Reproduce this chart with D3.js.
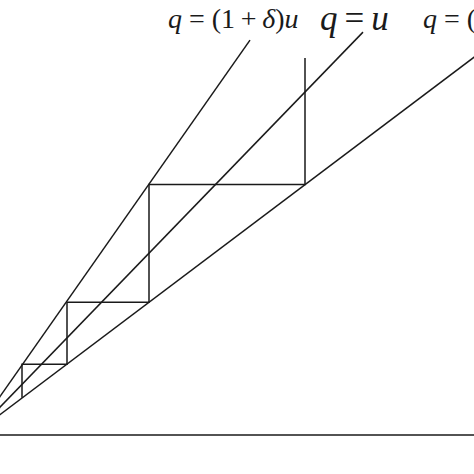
<!DOCTYPE html>
<html>
<head>
<meta charset="utf-8">
<script src="https://cdn.jsdelivr.net/npm/d3@7"></script>
<style>
  html, body { margin: 0; padding: 0; background: #fff; }
  svg { display: block; }
</style>
</head>
<body>
<div id="chart"></div>
<script>
// slopes of the three rays q = k u
var rayNames = ["q = (1+δ)u", "q = u", "q = (1−δ)u"];
var raySlopes = [1.38, 1.0, 0.73];
var rayEndU = [0.554, 0.78, 1.02];

// cobweb path as (u, q)
var stairU = [0.664, 0.664, 0.352, 0.352, 0.188, 0.188, 0.098, 0.098];
var stairQ = [0.73, 0.485, 0.485, 0.257, 0.257, 0.137, 0.137, 0.072];

var width = 474, height = 474;

var svg = d3.select("#chart").append("svg")
  .attr("width", width).attr("height", height);

// origin sits just off the left edge, on the baseline
var x = d3.scaleLinear().domain([0, 1]).range([-27, 473]);
var y = d3.scaleLinear().domain([0, 1]).range([435, -81.5]);

var ink = "#1a1a1a";

// baseline
svg.append("line")
  .attr("x1", 0).attr("x2", width)
  .attr("y1", y(0)).attr("y2", y(0))
  .attr("stroke", ink).attr("stroke-width", 1.6);

// rays
svg.selectAll("line.ray")
  .data(raySlopes)
  .enter().append("line")
  .attr("class", "ray")
  .attr("x1", x(0)).attr("y1", y(0))
  .attr("x2", function(d, i) { return x(rayEndU[i]); })
  .attr("y2", function(d, i) { return y(d * rayEndU[i]); })
  .attr("stroke", ink).attr("stroke-width", 1.5);

// stair steps
var line = d3.line()
  .x(function(d) { return x(d[0]); })
  .y(function(d) { return y(d[1]); });

svg.append("path")
  .datum(d3.zip(stairU, stairQ))
  .attr("d", line)
  .attr("fill", "none")
  .attr("stroke", ink).attr("stroke-width", 1.5);

// labels (math-ish: italic letters, upright symbols)
var labelPos = [[168, 28, 28], [320, 30, 35], [423, 28, 28]];
var labelParts = [
  [["q", 1], [" = ", 0], ["(1\u2009+\u2009", 0], ["δ", 1], [")", 0], ["u", 1]],
  [["q", 1], ["\u2009=\u2009", 0], ["u", 1]],
  [["q", 1], [" = ", 0], ["(1\u2009−\u2009", 0], ["δ", 1], [")", 0], ["u", 1]]
];

labelParts.forEach(function(parts, i) {
  var t = svg.append("text")
    .attr("x", labelPos[i][0]).attr("y", labelPos[i][1])
    .attr("font-family", "'Liberation Serif', 'DejaVu Serif', serif")
    .attr("font-size", labelPos[i][2])
    .attr("fill", ink)
    .attr("xml:space", "preserve");
  parts.forEach(function(p) {
    t.append("tspan")
      .attr("font-style", p[1] ? "italic" : "normal")
      .text(p[0]);
  });
});
</script>
</body>
</html>
